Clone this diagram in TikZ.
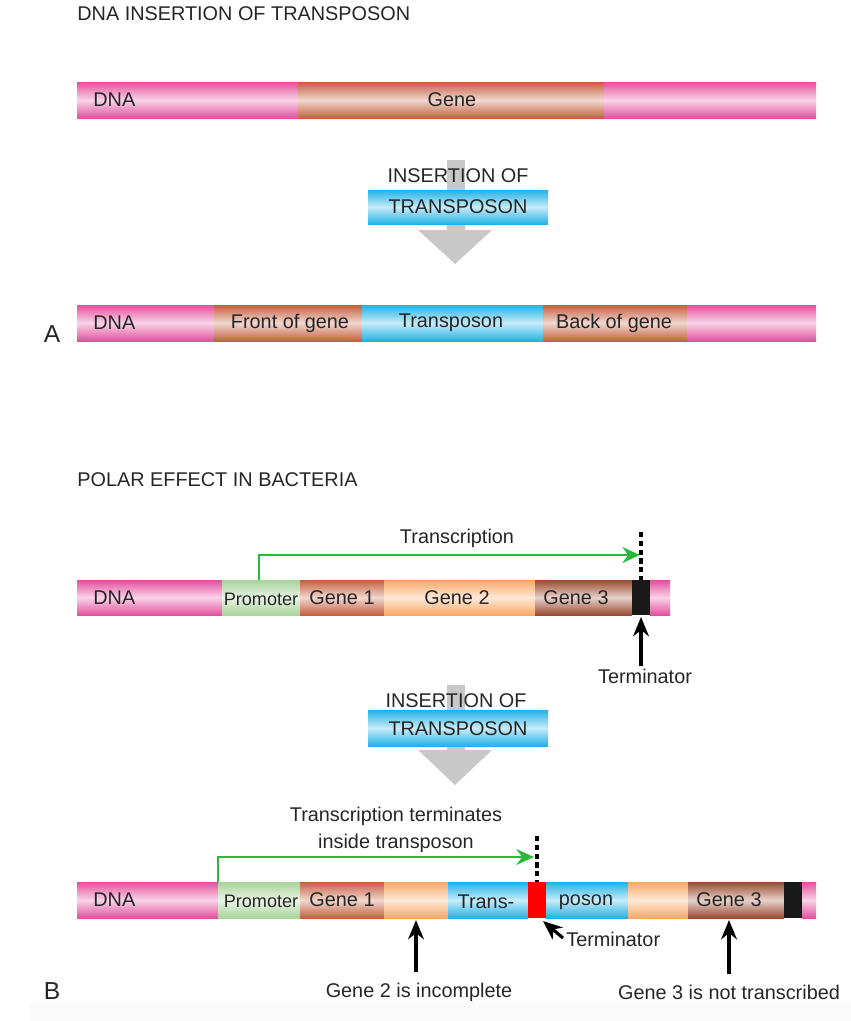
\documentclass[tikz,border=0pt]{standalone}
\usepackage{fontspec}
\setmainfont{Liberation Sans}
\usetikzlibrary{arrows.meta}
\definecolor{dnac}{HTML}{E4509E}
\definecolor{genec}{HTML}{C4603F}
\definecolor{tnc}{HTML}{22B2E6}
\definecolor{proc}{HTML}{A8D39A}
\definecolor{g2c}{HTML}{F8A865}
\definecolor{g3c}{HTML}{9A4A30}
\definecolor{grayarr}{HTML}{C8C8C8}
\definecolor{greenc}{HTML}{2DB83A}
\tikzset{
 seg/.style={top color=#1, bottom color=#1, middle color=#1!25, draw=none},
 lbl/.style={font=\fontsize{11.3}{13.5}\selectfont, text=black!85, inner sep=0},
 blk/.style={-{Stealth[length=11pt,width=9pt]}, line width=1.8pt},
 grn/.style={greenc, line width=1.6pt, -{Stealth[length=10pt,width=9pt]}},
 dots/.style={line width=2.5pt, dash pattern=on 3pt off 2pt},
}
\begin{document}
\begin{tikzpicture}[x=0.02cm,y=-0.02cm]
\useasboundingbox (0,0) rectangle (851,1021);
\fill[black!2] (30,1002) rectangle (851,1021);
% Title A
\node[lbl,anchor=west] (ta) at (77,14) {DNA INSERTION OF TRANSPOSON};
% Bar 1
\shade[seg=dnac] (77,82) rectangle (298,118);
\shade[seg=genec] (298,82) rectangle (604,118);
\shade[seg=dnac] (604,82) rectangle (816,118);
\node[lbl,anchor=west] (d1) at (93,100) {DNA};
\node[lbl] (g1) at (452,100) {Gene};
% Insertion arrow 1
\fill[grayarr] (447,160) rectangle (465,231);
\fill[grayarr] (418,230) -- (492,230) -- (455,264) -- cycle;
\shade[seg=tnc] (368,190) rectangle (548,224);
\node[lbl] (i1a) at (458,176) {INSERTION OF};
\node[lbl] (i1b) at (458,207) {TRANSPOSON};
% Bar 2
\shade[seg=dnac] (77,305) rectangle (214,341);
\shade[seg=genec] (214,305) rectangle (362,341);
\shade[seg=tnc] (362,305) rectangle (543,341);
\shade[seg=genec] (543,305) rectangle (687,341);
\shade[seg=dnac] (687,305) rectangle (816,341);
\node[lbl,anchor=west] (d2) at (93,323) {DNA};
\node[lbl] (f2) at (290,323) {Front of gene};
\node[lbl] (t2) at (451,323) {Transposon};
\node[lbl] (b2) at (614,323) {Back of gene};
\node[lbl,font=\fontsize{14}{16}\selectfont] (A) at (52,334) {A};
% Title B
\node[lbl,anchor=west] (tb) at (77,480) {POLAR EFFECT IN BACTERIA};
% Bar 3
\shade[seg=dnac] (77,580) rectangle (222,615);
\shade[seg=proc] (222,580) rectangle (300,615);
\shade[seg=genec] (300,580) rectangle (384,615);
\shade[seg=g2c] (384,580) rectangle (535,615);
\shade[seg=g3c] (535,580) rectangle (632,615);
\fill[black!90] (632,580) rectangle (650,615);
\shade[seg=dnac] (650,580) rectangle (670,615);
\node[lbl,anchor=west] (d3) at (93,598) {DNA};
\node[lbl,font=\fontsize{10.3}{12}\selectfont] (p3) at (261,599) {Promoter};
\node[lbl] (ge13) at (342,598) {Gene 1};
\node[lbl] (ge23) at (457,598) {Gene 2};
\node[lbl] (ge33) at (576,598) {Gene 3};
\coordinate (s3) at (259,580);
\coordinate (e3) at (640,555);
\draw[grn] (s3) |- (e3);
\coordinate (t3a) at (641,532);
\coordinate (t3b) at (641,580);
\draw[dots] (t3a) -- (t3b);
\node[lbl] (tr3) at (457,538) {Transcription};
\node[lbl,anchor=north] (term3) at (645,669) {Terminator};
\draw[blk] (term3.north -| t3b) ++(0,-3) coordinate (ta3) -- (641,617);
% Insertion arrow 2
\fill[grayarr] (447,685) rectangle (465,751);
\fill[grayarr] (418,750) -- (492,750) -- (455,785) -- cycle;
\shade[seg=tnc] (368,710) rectangle (548,746);
\node[lbl] (i2a) at (456,701) {INSERTION OF};
\node[lbl] (i2b) at (458,729) {TRANSPOSON};
% Bar 4
\shade[seg=dnac] (77,882) rectangle (218,918);
\shade[seg=proc] (218,882) rectangle (300,918);
\shade[seg=genec] (300,882) rectangle (384,918);
\shade[seg=g2c] (384,882) rectangle (448,918);
\shade[seg=tnc] (448,882) rectangle (528,918);
\fill[red] (528,882) rectangle (546,918);
\shade[seg=tnc] (546,882) rectangle (628,918);
\shade[seg=g2c] (628,882) rectangle (688,918);
\shade[seg=g3c] (688,882) rectangle (784,918);
\fill[black!90] (784,882) rectangle (802,918);
\shade[seg=dnac] (802,882) rectangle (816,918);
\node[lbl,anchor=west] (d4) at (93,900) {DNA};
\node[lbl,font=\fontsize{10.3}{12}\selectfont] (p4) at (261,901) {Promoter};
\node[lbl] (ge14) at (342,900) {Gene 1};
\node[lbl] (tr4) at (486,902) {Trans-};
\node[lbl] (po4) at (586,902) {poson};
\node[lbl] (ge34) at (729,900) {Gene 3};
\coordinate (s4) at (218,882);
\coordinate (e4) at (534,857);
\draw[grn] (s4) |- (e4);
\coordinate (t4a) at (537,836);
\coordinate (t4b) at (537,882);
\draw[dots] (t4a) -- (t4b);
\node[lbl,align=center] (tt4) at (396,830) {Transcription terminates\\[2pt]inside transposon};
\node[lbl,anchor=west] (term4) at (566,939) {Terminator};
\coordinate (tm4) at (543,921);
\draw[blk] (term4.west) ++(-3,-1) coordinate (tq) -- (tm4);
\node[lbl] (gi) at (419,992) {Gene 2 is incomplete};
\node[lbl] (gn) at (729,992) {Gene 3 is not transcribed};
\coordinate (a1) at (416,920);
\coordinate (a2) at (729,920);
\draw[blk] (gi.north -| a1) ++(0,-10) coordinate (b1) -- (a1);
\draw[blk] (gn.north -| a2) ++(0,-10) coordinate (b2) -- (a2);
\node[lbl,font=\fontsize{14}{16}\selectfont] (B) at (52,991) {B};
\end{tikzpicture}
\end{document}
